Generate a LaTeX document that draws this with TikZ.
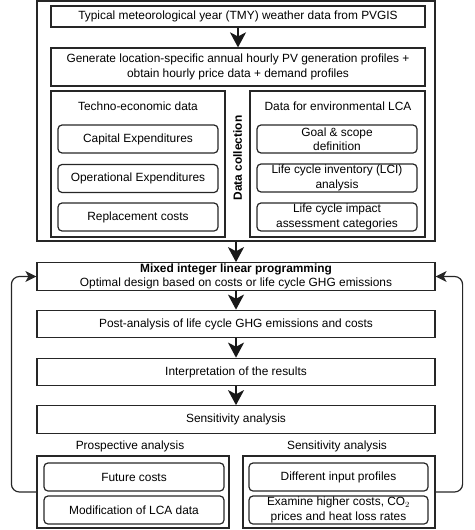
\documentclass[tikz,border=0pt]{standalone}
\usepackage{fontspec}
\setmainfont{Liberation Sans}
\usetikzlibrary{arrows.meta}
\tikzset{
	flowbox/.style = {draw=black!85, line width=1.2pt, align=center, inner sep=0pt, text centered, font=\fontsize{11.9}{14.3}\selectfont},
	stagebox/.style = {flowbox, minimum width=398, minimum height=27.5},
	databox/.style = {flowbox, minimum width=175, minimum height=146},
	itembox/.style = {flowbox, rounded corners=4pt, minimum width=160, minimum height=28},
	optbox/.style = {flowbox, rounded corners=4pt, minimum width=180, minimum height=28},
	boxtitle/.style = {align=center, inner sep=0pt, font=\fontsize{11.9}{14.3}\selectfont},
	flowarrow/.style = {-{Stealth[length=15pt, width=16pt, inset=4pt]}, line width=1.6pt, black!90},
	looparrow/.style = {-{Stealth[length=11pt, width=11pt, inset=3pt]}, line width=1.2pt, black!85, rounded corners=8pt},
}
\begin{document}
\begin{tikzpicture}[x=1pt, y=-1pt]
	\useasboundingbox (0,0) rectangle (474,530);
	% data collection block
	\node[flowbox, minimum width=398, minimum height=240] (collect) at (236,121) {};
	\node[flowbox, minimum width=374, minimum height=21] (tmy) at (238,16.5) {Typical meteorological year (TMY) weather data from PVGIS};
	\node[flowbox, minimum width=374, minimum height=38] (gen) at (238,67) {Generate location-specific annual hourly PV generation profiles +\\obtain hourly price data + demand profiles};
	\node[databox, minimum width=174] (techno) at (138,164) {};
	\node[databox] (lca) at (337.5,164) {};
	\node[boxtitle] (technotitle) at (138,106) {Techno-economic data};
	\node[boxtitle] (lcatitle) at (338,106) {Data for environmental LCA};
	\node[boxtitle, rotate=90, font=\fontsize{11.9}{14.3}\selectfont\bfseries] (collecttitle) at (237.5,158) {Data collection};
	\node[itembox] (capex) at (138,139) {Capital Expenditures};
	\node[itembox] (opex) at (138,178.5) {Operational Expenditures};
	\node[itembox] (replace) at (138,217) {Replacement costs};
	\node[itembox] (goal) at (337,139) {Goal \& scope\\definition};
	\node[itembox] (lci) at (337,178) {Life cycle inventory (LCI)\\analysis};
	\node[itembox] (lcia) at (337,217) {Life cycle impact\\assessment categories};
	% main stages
	\node[stagebox] (milp) at (236,276.5) {\textbf{Mixed integer linear programming}\\Optimal design based on costs or life cycle GHG emissions};
	\node[stagebox] (post) at (236,324) {Post-analysis of life cycle GHG emissions and costs};
	\node[stagebox] (interp) at (236,372) {Interpretation of the results};
	\node[stagebox] (sens) at (236,419.5) {Sensitivity analysis};
	% scenario blocks
	\node[boxtitle] (prostitle) at (130,446) {Prospective analysis};
	\node[boxtitle] (senstitle) at (337,446) {Sensitivity analysis};
	\node[flowbox, minimum width=192, minimum height=72] (prosbox) at (133,492) {};
	\node[flowbox, minimum width=192, minimum height=72] (sensbox) at (339,492) {};
	\node[optbox] (future) at (134,477) {Future costs};
	\node[optbox] (modif) at (134,510) {Modification of LCA data};
	\node[optbox, minimum width=179] (inputs) at (338.5,477) {Different input profiles};
	\node[optbox, minimum width=179] (examine) at (338.5,510) {Examine higher costs, CO$_2$\\prices and heat loss rates};
	
	\draw[flowarrow] (tmy) -- (gen);
	\draw[flowarrow] (collect) -- (milp);
	\draw[flowarrow] (milp) -- (post);
	\draw[flowarrow] (post) -- (interp);
	\draw[flowarrow] (interp) -- (sens);
	\draw[looparrow] (prosbox.west) -- ++(-25,0) |- (milp.west);
	\draw[looparrow] (sensbox.east) -- ++(27,0) |- (milp.east);
\end{tikzpicture}
\end{document}
